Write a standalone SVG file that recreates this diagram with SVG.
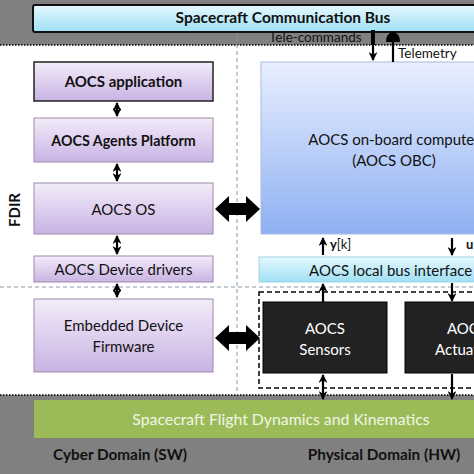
<svg xmlns="http://www.w3.org/2000/svg" width="474" height="474" viewBox="0 0 474 474">
<defs>
<linearGradient id="gPurple" x1="0" y1="0" x2="0" y2="1"><stop offset="0" stop-color="#f3ecfa"/><stop offset="1" stop-color="#c9b3e3"/></linearGradient>
<linearGradient id="gCyan" x1="0" y1="0" x2="0" y2="1"><stop offset="0" stop-color="#e6f9ff"/><stop offset="1" stop-color="#9fdff3"/></linearGradient>
<linearGradient id="gBlue" x1="0" y1="0" x2="0" y2="1"><stop offset="0" stop-color="#e9efff"/><stop offset="1" stop-color="#8eb0f2"/></linearGradient>
<marker id="ah" viewBox="0 0 10 10" refX="9" refY="5" markerWidth="4" markerHeight="4" orient="auto-start-reverse"><path d="M0,0 L10,5 L0,10 L3,5 Z" fill="#000"/></marker>
<style>
.t{font-family:Lato,"Open Sans","Liberation Sans",sans-serif;fill:#111;}
.b{font-weight:bold;}
.w{fill:#fff;}
.lbox{fill:url(#gPurple);stroke:#9b8aa8;stroke-width:1;}
.conn{stroke:#000;stroke-width:2.2;fill:none;}
</style>
</defs>
<rect width="474" height="474" fill="#fff"/>
<rect x="0" y="0" width="474" height="45" fill="#808080"/>
<rect x="0" y="395" width="474" height="79" fill="#808080"/>
<line x1="0" y1="45" x2="474" y2="45" stroke="#000" stroke-width="1.5" stroke-dasharray="1.5,1.5"/>
<line x1="0" y1="395" x2="474" y2="395" stroke="#000" stroke-width="1.5" stroke-dasharray="1.5,1.5"/>
<line x1="237" y1="30" x2="237" y2="395" stroke="#8a9aa8" stroke-width="1" stroke-dasharray="4,3"/>
<line x1="0" y1="287" x2="474" y2="287" stroke="#8a9aa8" stroke-width="1" stroke-dasharray="4,3"/>

<g id="bus">
<rect x="33" y="5" width="460" height="27" rx="2" fill="url(#gCyan)" stroke="#111" stroke-width="2"/>
<text class="t b" x="283" y="23" font-size="15.5" text-anchor="middle">Spacecraft  Communication Bus</text>
</g>
<text class="t b" x="14" y="210" font-size="15" text-anchor="middle" transform="rotate(-90 14 210)" dominant-baseline="central">FDIR</text>

<g id="app"><rect x="34" y="62" width="179" height="39" fill="url(#gPurple)" stroke="#222" stroke-width="1.5"/><text class="t b" x="123.5" y="87" font-size="15" text-anchor="middle">AOCS application</text></g>
<g id="agents"><rect class="lbox" x="34" y="118" width="179" height="44"/><text class="t b" x="123.5" y="146" font-size="14.3" text-anchor="middle">AOCS Agents Platform</text></g>
<g id="os"><rect class="lbox" x="34" y="183" width="179" height="51"/><text class="t" x="123.5" y="215" font-size="15" text-anchor="middle">AOCS OS</text></g>
<g id="drivers"><rect class="lbox" x="34" y="256" width="179" height="26"/><text class="t" x="123.5" y="275" font-size="15" text-anchor="middle">AOCS Device drivers</text></g>
<g id="firmware"><rect class="lbox" x="34" y="299" width="179" height="73"/><text class="t" x="123.5" y="331" font-size="15" text-anchor="middle">Embedded Device</text><text class="t" x="123.5" y="352" font-size="15" text-anchor="middle">Firmware</text></g>

<g id="obc"><rect x="261" y="62" width="260" height="172" fill="url(#gBlue)" stroke="#a8bce0" stroke-width="1"/><text class="t" x="394" y="145" font-size="15" text-anchor="middle">AOCS on-board computer</text><text class="t" x="394" y="166" font-size="15" text-anchor="middle">(AOCS OBC)</text></g>
<g id="localbus"><rect x="259" y="257" width="260" height="25" fill="url(#gCyan)" stroke="#9fd6e6" stroke-width="1"/><text class="t" x="309" y="276" font-size="15">AOCS  local bus interface</text></g>
<rect x="259" y="292" width="230" height="96" fill="none" stroke="#000" stroke-width="1.5" stroke-dasharray="5,3"/>
<g id="sensors"><rect x="263" y="302" width="124" height="71" fill="#222" stroke="#000"/><text class="t w" x="325" y="334" font-size="15" text-anchor="middle">AOCS</text><text class="t w" x="325" y="355" font-size="15" text-anchor="middle">Sensors</text></g>
<g id="actuators"><rect x="405" y="302" width="124" height="71" fill="#222" stroke="#000"/><text class="t w" x="467" y="334" font-size="15" text-anchor="middle">AOCS</text><text class="t w" x="467" y="355" font-size="15" text-anchor="middle">Actuators</text></g>
<g id="dynamics"><rect x="34" y="400" width="460" height="38" fill="#9bbb59"/><text class="t" x="281" y="425" font-size="15.8" text-anchor="middle" style="fill:#f0f6e4">Spacecraft  Flight Dynamics and Kinematics</text></g>
<text class="t b" x="120" y="460" font-size="15.3" text-anchor="middle">Cyber Domain (SW)</text>
<text class="t b" x="384" y="460" font-size="15.3" text-anchor="middle">Physical Domain (HW)</text>
<text class="t" x="269" y="42" font-size="13.5">Tele-commands</text>
<text class="t" x="398" y="58" font-size="13.5">Telemetry</text>
<text class="t" x="330" y="249" font-size="13"><tspan font-weight="bold">y</tspan>[k]</text>
<text class="t b" x="466" y="249" font-size="13">u</text>

<g id="connectors">
<line class="conn" x1="117" y1="103" x2="117" y2="116" marker-start="url(#ah)" marker-end="url(#ah)"/>
<line class="conn" x1="117" y1="164" x2="117" y2="181" marker-start="url(#ah)" marker-end="url(#ah)"/>
<line class="conn" x1="117" y1="236" x2="117" y2="254" marker-start="url(#ah)" marker-end="url(#ah)"/>
<line class="conn" x1="117" y1="284" x2="117" y2="297" marker-start="url(#ah)" marker-end="url(#ah)"/>
<path d="M215,209 L229,196 L229,203 L246,203 L246,196 L260,209 L246,222 L246,215 L229,215 L229,222 Z" fill="#000"/>
<path d="M215,338 L229,325 L229,332 L246,332 L246,325 L260,338 L246,351 L246,344 L229,344 L229,351 Z" fill="#000"/>
<line x1="373" y1="30" x2="373" y2="45" stroke="#000" stroke-width="4"/>
<line class="conn" x1="373" y1="44" x2="373" y2="60" marker-end="url(#ah)"/>
<line class="conn" x1="393" y1="62" x2="393" y2="36"/>
<path d="M386,42 Q386,33 393,32 Q400,33 400,42 Z" fill="#000"/>
<line class="conn" x1="323" y1="255" x2="323" y2="238" marker-end="url(#ah)"/>
<line class="conn" x1="452" y1="238" x2="452" y2="255" marker-end="url(#ah)"/>
<line class="conn" x1="323" y1="302" x2="323" y2="284" marker-end="url(#ah)"/>
<line class="conn" x1="452" y1="283" x2="452" y2="301" marker-end="url(#ah)"/>
<line class="conn" x1="323" y1="399" x2="323" y2="375" marker-start="url(#ah)" marker-end="url(#ah)"/>
<line class="conn" x1="452" y1="374" x2="452" y2="399" marker-end="url(#ah)"/>
</g>
</svg>
